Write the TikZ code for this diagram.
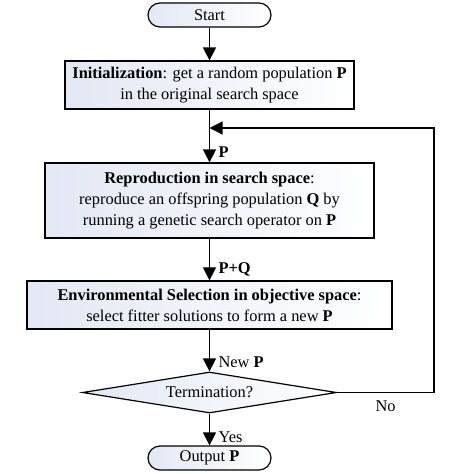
\documentclass[tikz,border=0pt]{standalone}
\usepackage{fontspec}
\setmainfont{Liberation Serif}
\usetikzlibrary{arrows.meta,shapes.geometric}

\definecolor{boxblue}{RGB}{226,232,244}

\tikzset{
    procbox/.style={draw=black, line width=1.2pt, left color=boxblue, right color=white, align=center, inner sep=0pt},
    termbox/.style={procbox, rounded corners=12pt, minimum width=123pt, minimum height=24pt},
    arr/.style={line width=1.2pt, -{Triangle[width=13pt,length=13pt]}},
    flowlabel/.style={right, xshift=3pt, font=\bfseries}
}

\begin{document}
\fontsize{16.4}{21}\selectfont
\begin{tikzpicture}[x=1pt, y=-1pt]
    \useasboundingbox (0,0) rectangle (474,474);

    \node[termbox] (start) at (209.5,15) {Start};
    \node[procbox, minimum width=289pt, minimum height=48pt] (init) at (209.5,85) {
        \textbf{Initialization}: get a random population \textbf{P} \\
        in the original search space
    };
    \node[procbox, minimum width=329pt, minimum height=75pt] (repro) at (209.5,200.5) {
        \textbf{Reproduction in search space}: \\
        reproduce an offspring population \textbf{Q} by \\
        running a genetic search operator on \textbf{P}
    };
    \node[procbox, minimum width=365pt, minimum height=48pt] (envsel) at (209.5,305) {
        \textbf{Environmental Selection in objective space}: \\
        select fitter solutions to form a new \textbf{P}
    };
    \node[procbox, diamond, aspect=6.2, minimum width=254pt, minimum height=41pt] (term) at (209.5,392.5) {Termination?};
    \node[termbox] (output) at (209.5,458) {Output \textbf{P}};

    \coordinate (corner) at (434,392.5);
    \coordinate (loop) at (434,128);
    \coordinate (join) at (209.5,128);

    \draw[arr] (start) -- (init);
    \draw[arr] (init) -- node[flowlabel, pos=0.81] (plabel) {P} (repro);
    \draw[arr] (repro) -- node[flowlabel, pos=0.74] (pqlabel) {P+Q} (envsel);
    \draw[arr] (envsel) -- node[right, xshift=3pt, pos=0.79] (newlabel) {New \textbf{P}} (term);
    \draw[arr] (term) -- node[right, xshift=3pt, pos=0.73] (yes) {Yes} (output);
    \draw[arr] (term.east) -- node[below, yshift=-2pt] (no) {No} (corner) -- (loop) -- (join);
\end{tikzpicture}
\end{document}
